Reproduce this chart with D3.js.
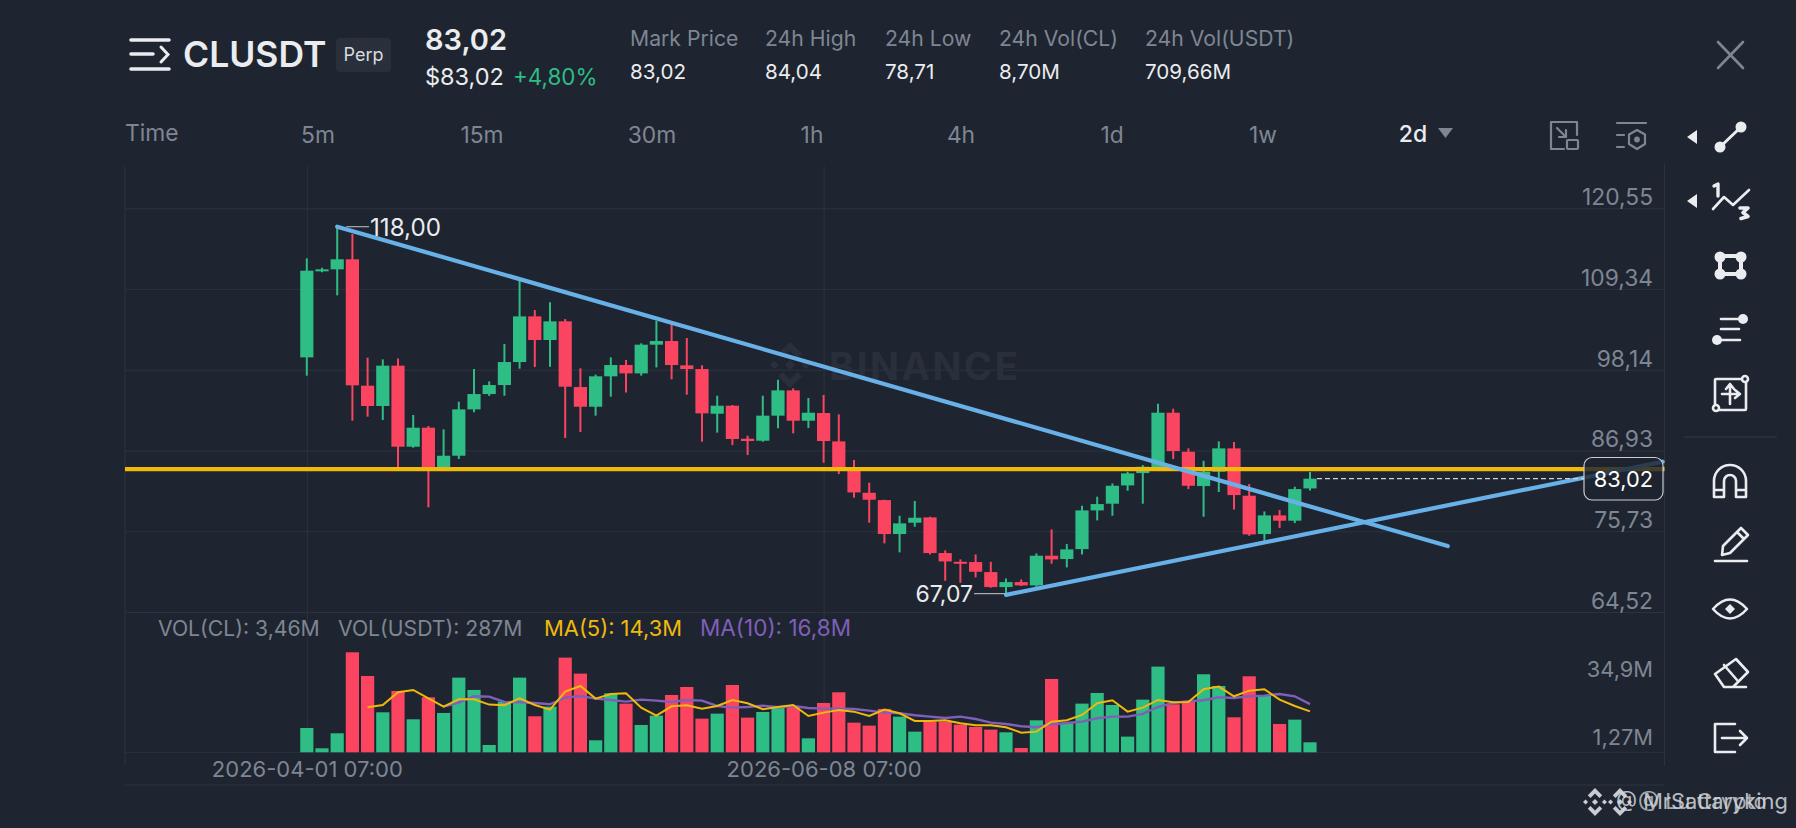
<!DOCTYPE html>
<html>
<head>
<meta charset="utf-8">
<script src="https://d3js.org/d3.v7.min.js"></script>
<style>
  html, body { margin: 0; padding: 0; background: #1e2530; overflow: hidden; }
  text { font-family: Inter, "Open Sans", sans-serif; }
</style>
</head>
<body>
<svg id="viz" width="1796" height="828"></svg>
<script>
// candles (one per 2d)
const opens = [99.86,111.94,112.08,113.47,95.93,93.11,98.71,87.46,90.10,84.30,86.21,92.64,94.77,96.02,99.21,105.55,102.27,104.86,95.74,93.01,97.23,98.80,97.64,101.62,102.13,98.75,98.24,92.04,93.15,88.57,88.29,91.77,95.28,91.07,92.14,88.20,84.45,81.07,80.05,75.34,76.91,77.65,72.70,71.49,71.45,70.06,67.98,68.67,68.21,72.33,71.87,73.25,78.62,79.55,82.09,83.80,84.64,92.18,86.76,82.00,83.99,87.23,80.66,75.34,77.93,77.19,81.67];
const closes = [111.89,112.08,113.47,95.98,93.11,98.71,87.46,90.10,84.45,86.21,92.64,94.77,96.02,99.21,105.55,102.27,104.86,95.79,93.01,97.23,98.80,97.64,101.62,102.13,98.80,98.24,92.09,93.15,88.53,88.25,91.77,95.28,91.07,92.18,88.25,84.36,81.12,80.10,75.34,76.82,77.60,72.70,71.54,71.26,70.11,67.98,68.67,68.21,72.33,71.82,73.21,78.62,79.50,82.04,83.76,84.68,92.18,86.86,82.04,83.99,87.23,80.75,75.29,77.93,77.19,81.58,83.02];
const highs = [113.60,112.31,118.00,116.98,99.82,99.58,99.72,91.86,90.33,89.87,93.71,98.24,96.53,101.71,110.60,106.43,107.50,105.18,98.34,97.46,99.86,99.49,101.81,104.91,104.58,102.55,98.75,94.54,93.25,88.99,94.54,96.76,95.56,94.22,94.63,91.95,85.61,82.46,80.10,77.88,79.92,77.74,73.07,71.82,72.51,71.49,69.18,69.04,72.65,75.98,73.95,79.27,80.52,82.37,83.99,84.91,93.43,92.73,87.23,85.51,88.20,88.11,82.28,78.48,78.67,81.91,83.94];
const lows = [97.32,111.66,108.47,91.07,91.63,91.16,84.40,87.32,79.04,84.22,85.75,92.23,94.50,94.54,98.29,98.52,98.57,88.67,89.50,91.77,94.40,95.00,97.32,98.47,96.81,94.68,88.16,89.41,87.69,86.31,88.16,90.01,89.31,90.05,85.24,83.66,80.38,76.91,74.04,72.79,76.35,72.51,68.86,68.58,69.32,67.89,67.07,68.12,68.02,71.22,70.71,72.51,77.23,77.88,81.35,79.55,84.54,85.75,81.58,77.74,81.17,78.76,75.10,74.41,76.17,76.86,81.40];

// volume pane, in millions
const volumes = [8.49,1.40,6.63,34.9,26.64,13.96,21.41,11.52,19.20,13.73,26.06,21.76,2.56,17.68,26.06,12.57,15.94,33.04,27.46,4.19,20.59,16.99,9.54,12.80,20.01,22.80,11.75,13.50,23.50,12.10,14.08,15.94,15.94,4.89,17.22,20.94,10.35,9.31,15.13,12.45,7.21,10.70,10.70,9.66,8.84,7.91,6.98,1.51,11.17,25.60,10.12,16.99,20.71,16.52,5.47,18.38,29.90,16.75,17.68,27.23,23.15,12.22,26.53,19.66,9.89,11.40,3.49];
const ma5 = [null,null,null,null,15.71,16.52,20.94,21.76,18.85,15.94,18.50,18.50,16.64,16.41,18.85,16.52,14.89,21.18,23.15,18.73,20.36,20.59,15.59,12.80,16.06,16.41,15.24,16.17,18.27,17.10,15.01,15.82,16.52,12.68,13.85,14.78,14.19,12.68,14.89,13.61,10.94,10.94,11.17,10.12,9.42,9.42,8.73,6.86,7.21,10.70,11.17,13.03,17.10,18.15,14.19,15.59,18.27,17.45,17.57,21.99,22.92,19.55,21.52,21.99,18.38,16.17,14.3];
const ma10 = [null,null,null,null,null,null,null,null,null,15.94,17.34,19.55,19.43,17.57,17.45,17.22,16.75,19.08,19.66,18.73,18.27,17.68,18.38,18.03,17.57,18.27,18.03,16.17,15.59,15.82,16.29,15.71,16.17,15.47,15.24,15.24,15.13,14.54,13.85,13.61,12.91,12.45,11.98,12.45,11.63,10.35,9.89,9.08,8.73,9.77,10.24,10.70,11.87,12.45,12.45,13.38,15.82,17.22,17.80,18.15,19.20,18.96,19.55,19.78,20.36,19.55,16.8];

// axis ticks
const priceTicks = [120.55,109.34,98.14,86.93,75.73,64.52];
const volTicks = [34.9,1.27];
const volTickLabels = ['34,9M','1,27M'];
const dateTicks = [0,34];
const dateLabels = ['2026-04-01 07:00','2026-06-08 07:00'];

// drawn objects, [candle index, price]
const trendDown = [[2,118.0],[75.06,73.67]];
const trendUp = [[46,66.9],[89.2,85.38]];
const resistance = 84.36;
const lastPrice = 83.02;
const highMark = [2,118.0];
const lowMark = [46,67.07];

// header text
const statLabels = ['Mark Price','24h High','24h Low','24h Vol(CL)','24h Vol(USDT)'];
const statValues = ['83,02','84,04','78,71','8,70M','709,66M'];
const intervals = ['5m','15m','30m','1h','4h','1d','1w'];

const BG = '#1e2530';
const GRID = '#2c323e';
const GREEN = '#2ebd85';
const RED = '#fb4560';
const YELLOW = '#f0b90b';
const BLUE = '#67b1e8';
const PURPLE = '#7f5fb9';
const GREY = '#7f8693';
const LIGHT = '#eaecef';

const svg = d3.select('#viz');
svg.append('rect').attr('width', 1796).attr('height', 828).attr('fill', BG);

const paneLeft = 125;
const paneRight = 1664.5;
const x = d3.scaleLinear().domain([0, 66]).range([306.8, 1310]);
const y = d3.scaleLinear().domain([64.52, 120.55]).range([612, 208.3]);
const yVol = d3.scaleLinear().domain([0, 34.9]).range([752.3, 652.3]);
const idx = d3.range(opens.length);
const commaFmt = d3.formatLocale({ decimal: ',', thousands: '.', grouping: [3], currency: ['', ''] }).format('.2f');

const drawGrid = () => {
  const g = svg.append('g');
  // horizontal grid from the price axis
  g.append('g')
    .attr('transform', 'translate(' + paneRight + ',0)')
    .call(d3.axisLeft(y).tickValues(priceTicks).tickSize(paneRight - paneLeft).tickFormat(''))
    .call((s) => s.select('.domain').remove())
    .selectAll('line').attr('stroke', GRID);
  // vertical grid from the date ticks
  g.append('g')
    .attr('transform', 'translate(0,752.3)')
    .call(d3.axisTop(x).tickValues(dateTicks).tickSize(752.3 - 166).tickFormat(''))
    .call((s) => s.select('.domain').remove())
    .selectAll('line').attr('stroke', GRID);
  const frame = [
    [paneLeft, 166, paneLeft, 765],
    [paneRight, 163, paneRight, 766],
    [paneLeft, 752.3, paneRight, 752.3],
    [paneLeft, 785, paneRight, 785],
  ];
  g.selectAll('.frame').data(frame).enter().append('line')
    .attr('x1', (d) => d[0]).attr('y1', (d) => d[1])
    .attr('x2', (d) => d[2]).attr('y2', (d) => d[3])
    .attr('stroke', GRID);
};

const drawWatermark = () => {
  const g = svg.append('g').attr('fill', '#2a303b');
  g.append('text').attr('x', 829).attr('y', 380).attr('font-size', 38).attr('font-weight', 700)
    .attr('letter-spacing', 2.6).text('BINANCE');
  drawLogo(g, 790, 365, 1.5);
};

// the four-diamond logo, size 1 is about 30px across
const drawLogo = (g, cx, cy, k) => {
  const l = g.append('g').attr('transform', 'translate(' + cx + ',' + cy + ') scale(' + k + ')');
  const spots = [[0, 0, 3.4], [-10.5, 0, 2.8], [10.5, 0, 2.8]];
  spots.forEach((s) => {
    l.append('path').attr('d', 'M' + (s[0] - s[2]) + ',' + s[1] + 'L' + s[0] + ',' + (s[1] - s[2]) + 'L' + (s[0] + s[2]) + ',' + s[1] + 'L' + s[0] + ',' + (s[1] + s[2]) + 'Z');
  });
  l.append('path').attr('d', 'M0,-15.5L8,-7.5L5,-4.5L0,-9.5L-5,-4.5L-8,-7.5Z');
  l.append('path').attr('d', 'M0,15.5L8,7.5L5,4.5L0,9.5L-5,4.5L-8,7.5Z');
};

const drawCandles = () => {
  const color = (i) => (closes[i] >= opens[i] ? GREEN : RED);
  const g = svg.append('g');
  g.selectAll('.wick').data(idx).enter().append('line')
    .attr('x1', (i) => x(i)).attr('x2', (i) => x(i))
    .attr('y1', (i) => y(highs[i])).attr('y2', (i) => y(lows[i]))
    .attr('stroke', color).attr('stroke-width', 2);
  g.selectAll('.body').data(idx).enter().append('rect')
    .attr('x', (i) => x(i) - 6.6).attr('width', 13.2)
    .attr('y', (i) => y(Math.max(opens[i], closes[i])))
    .attr('height', (i) => Math.max(2, Math.abs(y(opens[i]) - y(closes[i]))))
    .attr('fill', color);
};

const drawVolume = () => {
  const g = svg.append('g');
  g.selectAll('.vol').data(idx).enter().append('rect')
    .attr('x', (i) => x(i) - 6.6).attr('width', 13.2)
    .attr('y', (i) => yVol(volumes[i]))
    .attr('height', (i) => yVol(0) - yVol(volumes[i]))
    .attr('fill', (i) => (closes[i] >= opens[i] ? GREEN : RED));
  const line = (arr) => d3.line().defined((i) => arr[i] != null).x((i) => x(i)).y((i) => yVol(arr[i]))(idx);
  g.append('path').attr('d', line(ma10)).attr('fill', 'none').attr('stroke', PURPLE).attr('stroke-width', 2.4);
  g.append('path').attr('d', line(ma5)).attr('fill', 'none').attr('stroke', YELLOW).attr('stroke-width', 2);

  const legend = [
    ['VOL(CL): 3,46M', 158, GREY, 21.2],
    ['VOL(USDT): 287M', 338, GREY, 21.2],
    ['MA(5): 14,3M', 544, YELLOW, 21.9],
    ['MA(10): 16,8M', 700, PURPLE, 22.5],
  ];
  svg.selectAll('.legend').data(legend).enter().append('text')
    .attr('x', (d) => d[1]).attr('y', 635.5).attr('font-size', (d) => d[3])
    .attr('fill', (d) => d[2]).text((d) => d[0]);
};

const drawDrawings = () => {
  const g = svg.append('g');
  g.append('line')
    .attr('x1', paneLeft).attr('x2', paneRight)
    .attr('y1', y(resistance)).attr('y2', y(resistance))
    .attr('stroke', YELLOW).attr('stroke-width', 4.2);
  const trend = d3.line().x((d) => x(d[0])).y((d) => y(d[1]));
  [trendDown, trendUp].forEach((t) => {
    g.append('path').attr('d', trend(t)).attr('fill', 'none')
      .attr('stroke', BLUE).attr('stroke-width', 4.2).attr('stroke-linecap', 'round');
  });

  // last price dashes and boxed label
  g.append('line')
    .attr('x1', x(66) + 7).attr('x2', 1584)
    .attr('y1', y(lastPrice)).attr('y2', y(lastPrice))
    .attr('stroke', '#cfd3d8').attr('stroke-width', 1.2).attr('stroke-dasharray', '5,3');
  g.append('rect').attr('x', 1584).attr('y', 457.5).attr('width', 79).attr('height', 42.5).attr('rx', 8)
    .attr('fill', BG).attr('fill-opacity', 0.82).attr('stroke', '#c9ccd1').attr('stroke-width', 1.2);
  g.append('text').attr('x', 1653).attr('y', y(lastPrice) + 8).attr('text-anchor', 'end')
    .attr('font-size', 21.8).attr('fill', '#ffffff').text(commaFmt(lastPrice));

  // high and low markers
  g.append('line').attr('x1', x(highMark[0]) + 9).attr('x2', 369).attr('y1', y(highMark[1])).attr('y2', y(highMark[1]))
    .attr('stroke', '#a9adb3').attr('stroke-width', 1.2);
  g.append('text').attr('x', 370).attr('y', y(highMark[1]) + 9.5).attr('font-size', 24.2).attr('fill', LIGHT)
    .text(commaFmt(highMark[1]));
  g.append('line').attr('x1', 974).attr('x2', x(lowMark[0])).attr('y1', y(lowMark[1])).attr('y2', y(lowMark[1]))
    .attr('stroke', '#a9adb3').attr('stroke-width', 1.2);
  g.append('text').attr('x', 973).attr('y', y(lowMark[1]) + 8).attr('text-anchor', 'end').attr('font-size', 23)
    .attr('fill', LIGHT).text(commaFmt(lowMark[1]));
};

const drawAxes = () => {
  const labels = svg.append('g')
    .attr('transform', 'translate(1653,0)')
    .call(d3.axisLeft(y).tickValues(priceTicks).tickSize(0).tickPadding(0).tickFormat(commaFmt));
  labels.select('.domain').remove();
  labels.selectAll('text').attr('fill', GREY).attr('font-size', 22.8).attr('dy', '-0.2em')
    .attr('font-family', 'Inter').attr('transform', 'translate(0,1)');

  const vol = svg.append('g')
    .attr('transform', 'translate(1653,0)')
    .call(d3.axisLeft(yVol).tickValues(volTicks).tickSize(0).tickPadding(0)
      .tickFormat((d, i) => volTickLabels[i]));
  vol.select('.domain').remove();
  vol.selectAll('text').attr('fill', GREY).attr('font-size', 21.8).attr('font-family', 'Inter')
    .attr('transform', (d, i) => 'translate(0,' + (i == 0 ? 17 : -11) + ')');

  const dates = svg.append('g')
    .attr('transform', 'translate(0,752)')
    .call(d3.axisBottom(x).tickValues(dateTicks).tickSize(0).tickPadding(9)
      .tickFormat((d, i) => dateLabels[i]));
  dates.select('.domain').remove();
  dates.selectAll('text').attr('fill', GREY).attr('font-size', 22).attr('font-family', 'Inter');
};

const drawHeader = () => {
  const g = svg.append('g');
  // menu icon
  const menu = 'M131,40H169M131,54H153M131,69H169';
  g.append('path').attr('d', menu).attr('stroke', LIGHT).attr('stroke-width', 3.6).attr('stroke-linecap', 'round');
  g.append('path').attr('d', 'M161,47L168,54.5L161,62').attr('fill', 'none').attr('stroke', LIGHT)
    .attr('stroke-width', 3).attr('stroke-linecap', 'round');

  g.append('text').attr('x', 183).attr('y', 67).attr('font-size', 35.5).attr('font-weight', 600)
    .attr('fill', LIGHT).text('CLUSDT');
  g.append('rect').attr('x', 336).attr('y', 38).attr('width', 55).attr('height', 34).attr('rx', 4).attr('fill', '#2a303b');
  g.append('text').attr('x', 363.5).attr('y', 61).attr('text-anchor', 'middle').attr('font-size', 18)
    .attr('fill', '#d8dbe0').text('Perp');

  g.append('text').attr('x', 425).attr('y', 50).attr('font-size', 29).attr('font-weight', 600)
    .attr('fill', LIGHT).text('83,02');
  g.append('text').attr('x', 425).attr('y', 85).attr('font-size', 23.5).attr('fill', LIGHT).text('$83,02');
  g.append('text').attr('x', 513).attr('y', 85).attr('font-size', 22.4).attr('fill', GREEN).text('+4,80%');

  const statX = [630, 765, 885, 999, 1145];
  statLabels.forEach((s, i) => {
    g.append('text').attr('x', statX[i]).attr('y', 45.5).attr('font-size', 21.2).attr('fill', GREY).text(s);
    g.append('text').attr('x', statX[i]).attr('y', 78.5).attr('font-size', 20.6).attr('fill', LIGHT).text(statValues[i]);
  });

  g.append('text').attr('x', 125).attr('y', 140.5).attr('font-size', 22.8).attr('fill', GREY).text('Time');
  const intervalX = [318, 482, 652, 812, 961, 1112, 1263];
  intervals.forEach((s, i) => {
    g.append('text').attr('x', intervalX[i]).attr('y', 143).attr('text-anchor', 'middle')
      .attr('font-size', 22.8).attr('fill', GREY).text(s);
  });
  g.append('text').attr('x', 1413).attr('y', 141.5).attr('text-anchor', 'middle').attr('font-size', 23)
    .attr('font-weight', 500).attr('fill', LIGHT).text('2d');
  g.append('path').attr('d', 'M1438,128H1453L1445.5,138Z').attr('fill', GREY);
};

const drawIcons = () => {
  const g = svg.append('g').attr('fill', 'none').attr('stroke', LIGHT).attr('stroke-width', 2.6)
    .attr('stroke-linecap', 'round').attr('stroke-linejoin', 'round');
  const dot = (cx, cy, r) => g.append('circle').attr('cx', cx).attr('cy', cy).attr('r', r).attr('fill', LIGHT).attr('stroke', 'none');

  // close and top bar icons
  const grey = svg.append('g').attr('fill', 'none').attr('stroke', GREY).attr('stroke-width', 2.2)
    .attr('stroke-linejoin', 'round').attr('stroke-linecap', 'round');
  grey.append('path').attr('d', 'M1718,42L1743,68M1743,42L1718,68').attr('stroke-width', 2.6);
  grey.append('path').attr('d', 'M1564,149H1551V122H1577V135M1557,128L1566,137M1559,137H1566V130');
  grey.append('rect').attr('x', 1567).attr('y', 140).attr('width', 11).attr('height', 9).attr('rx', 1);
  grey.append('path').attr('d', 'M1617,123H1646M1617,135H1624M1617,147H1624');
  grey.append('path').attr('d', 'M1637,130L1645,134.5V144L1637,149L1629,144V134.5Z');
  grey.append('circle').attr('cx', 1637).attr('cy', 139.5).attr('r', 1.8).attr('fill', GREY);

  // side arrows
  svg.append('path').attr('d', 'M1697,130V144L1687,137ZM1697,194V208L1687,201Z').attr('fill', LIGHT);

  // line tool
  g.append('path').attr('d', 'M1720,147L1741,127').attr('stroke-width', 3);
  dot(1720, 147, 5.5); dot(1741, 127, 5.5);

  // fib tool
  g.append('path').attr('d', 'M1713,209L1724,197L1733,205L1749,190');
  g.append('path').attr('d', 'M1714,186L1718,184V196').attr('stroke-width', 3.4);
  g.append('path').attr('d', 'M1740,208H1748L1743,212.5L1748,216.5L1741,218.5').attr('stroke-width', 3.6);

  // box tool
  g.append('path').attr('d', 'M1720,256H1741M1720,274H1741M1720,256V274M1741,256V274').attr('stroke-width', 4);
  dot(1720, 257, 5.5); dot(1741, 257, 5.5); dot(1720, 274, 5.5); dot(1741, 274, 5.5);

  // sliders
  g.append('path').attr('d', 'M1721,319H1743M1721,329H1739M1721,340H1740');
  dot(1743, 319, 5); dot(1717, 340, 5);

  // selection box
  g.append('rect').attr('x', 1715).attr('y', 379).attr('width', 31).attr('height', 31).attr('rx', 1);
  g.append('path').attr('d', 'M1730,385V404M1722,394H1739M1726,389L1730,384L1734,389M1735,390L1740,394L1735,398');
  g.append('circle').attr('cx', 1745).attr('cy', 379).attr('r', 3).attr('fill', BG);
  g.append('circle').attr('cx', 1716).attr('cy', 408).attr('r', 3).attr('fill', BG);

  // separator
  svg.append('line').attr('x1', 1684).attr('x2', 1777).attr('y1', 437).attr('y2', 437).attr('stroke', GRID).attr('stroke-width', 1.4);

  // magnet
  g.append('path').attr('d', 'M1714,497V481A16,16 0 0 1 1746,481V497H1736V481A6,6 0 0 0 1724,481V497ZM1714,490H1724M1736,490H1746');
  // pencil
  g.append('path').attr('d', 'M1722,555L1723,546L1741,528L1748,535L1730,553ZM1737,532L1744,539');
  g.append('path').attr('d', 'M1715,561H1747');
  // eye
  g.append('path').attr('d', 'M1713,609Q1730,590 1747,609Q1730,628 1713,609Z');
  g.append('path').attr('d', 'M1730,604L1735,609L1730,614L1725,609Z').attr('fill', LIGHT).attr('stroke', 'none');
  // eraser
  g.append('path').attr('d', 'M1715,674L1736,659L1748,672L1733,687H1724ZM1724,665L1737,680M1724,687H1746');
  // exit
  g.append('path').attr('d', 'M1735,724H1715V752H1735M1722,738H1747M1740,731L1747,738L1740,745');
};

const drawFooter = () => {
  const g = svg.append('g').attr('fill', '#c9ccd1');
  drawLogo(g, 1595, 802, 0.9);
  drawLogo(g, 1620, 802, 0.9);
  const handle = svg.append('g').attr('fill', '#d4d7db').attr('font-size', 21.8).attr('font-family', 'Inter');
  handle.append('text').attr('x', 1616).attr('y', 809).attr('opacity', 0.85).text('@ MrSattaryking');
  handle.append('text').attr('x', 1638).attr('y', 809).attr('opacity', 0.75).text('@ Lu Crypto');
};

drawGrid();
drawWatermark();
drawCandles();
drawVolume();
drawDrawings();
drawAxes();
drawHeader();
drawIcons();
drawFooter();
</script>
</body>
</html>
